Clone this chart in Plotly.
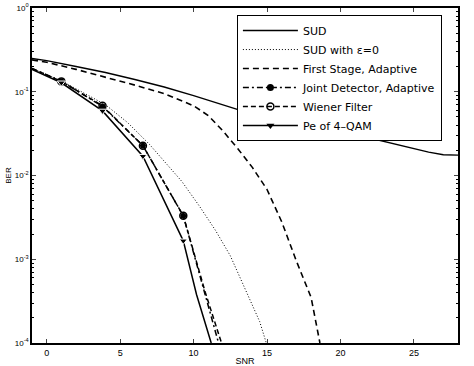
import plotly.graph_objects as go

# ---- data ----
snr_sud = [-1, 0, 2, 4, 6, 8, 10, 12, 14, 16, 18, 20, 22, 24, 26, 27, 28]
ber_sud = [0.25, 0.235, 0.2, 0.17, 0.14, 0.114, 0.09, 0.07, 0.054, 0.046, 0.039,
           0.034, 0.028, 0.0226, 0.019, 0.0177, 0.0175]

snr_eps = [-1, 1, 4, 5.5, 7, 8, 9.2, 10.4, 11.5, 12.5, 13.8, 14.5, 14.95]
ber_eps = [0.19, 0.135, 0.07, 0.043, 0.0235, 0.015, 0.0085, 0.0043, 0.0022,
           0.0011, 3.5e-4, 1.8e-4, 1e-4]

snr_fs = [-1, 0, 2, 4, 6, 8, 10, 11, 12, 13, 14, 15, 16, 17, 18, 18.6]
ber_fs = [0.24, 0.225, 0.185, 0.15, 0.12, 0.095, 0.068, 0.052, 0.034, 0.021,
          0.0125, 0.0068, 0.0028, 9.5e-4, 3.5e-4, 1e-4]

snr_jd = [-1, 1, 3.8, 6.55, 9.3, 10.7, 11.7]
ber_jd = [0.19, 0.133, 0.067, 0.0227, 0.0033, 4.2e-4, 1e-4]

snr_wf = [-1, 1, 3.8, 6.55, 9.3, 10.8, 11.9]
ber_wf = [0.19, 0.133, 0.068, 0.0227, 0.0033, 4e-4, 1e-4]

snr_pe = [-1, 1, 3.8, 6.55, 9.3, 10.2, 11.2]
ber_pe = [0.185, 0.128, 0.059, 0.017, 0.00166, 3.8e-4, 1e-4]

x_ticks = [0, 5, 10, 15, 20, 25]
y_ticks = [1e-4, 1e-3, 1e-2, 1e-1, 1]
y_tick_text = ["10<sup>-4</sup>", "10<sup>-3</sup>", "10<sup>-2</sup>", "10<sup>-1</sup>", "10<sup>0</sup>"]

names = ["SUD", "SUD with \u03b5=0", "First Stage, Adaptive",
         "Joint Detector, Adaptive", "Wiener Filter", "Pe of 4\u2013QAM"]

K = "black"
FONT = "Arial, Liberation Sans, sans-serif"

def msizes(n, s):
    # markers at interior points only
    return [0] + [s] * (n - 3) + [0, 0]

styles = [
    dict(x=snr_sud, y=ber_sud, line=dict(color=K, width=1.4, dash="solid"), marker=None),
    dict(x=snr_eps, y=ber_eps, line=dict(color=K, width=1.0, dash="1px,2px"), marker=None),
    dict(x=snr_fs, y=ber_fs, line=dict(color=K, width=1.6, dash="6px,4px"), marker=None),
    dict(x=snr_jd, y=ber_jd, line=dict(color=K, width=1.5, dash="6px,3px,2px,3px"),
         marker=dict(symbol="circle", color=K, size=7, opacity=1)),
    dict(x=snr_wf, y=ber_wf, line=dict(color=K, width=1.5, dash="5px,3px"),
         marker=dict(symbol="circle-open", color=K, size=7, opacity=1, line=dict(width=1.5, color=K))),
    dict(x=snr_pe, y=ber_pe, line=dict(color=K, width=1.5, dash="solid"),
         marker=dict(symbol="triangle-down", color=K, size=7, opacity=1)),
]

fig = go.Figure()
for name, st in zip(names, styles):
    if st["marker"] is None:
        fig.add_trace(go.Scatter(x=st["x"], y=st["y"], mode="lines", line=st["line"],
                                 showlegend=False, hoverinfo="skip"))
        fig.add_trace(go.Scatter(x=[None], y=[None], mode="lines", line=st["line"], name=name))
    else:
        mk = dict(st["marker"])
        mk["size"] = msizes(len(st["x"]), st["marker"]["size"])
        fig.add_trace(go.Scatter(x=st["x"], y=st["y"], mode="lines+markers", line=st["line"],
                                 marker=mk, showlegend=False, hoverinfo="skip"))
        fig.add_trace(go.Scatter(x=[None], y=[None], mode="lines+markers", line=st["line"],
                                 marker=st["marker"], name=name))

minor_vals = [k * 10.0 ** e for e in range(-4, 0) for k in range(2, 10)]

fig.update_layout(
    width=474, height=366,
    margin=dict(l=32, r=16, t=8, b=23, autoexpand=False),
    paper_bgcolor="white", plot_bgcolor="white",
    font=dict(family=FONT, color=K, size=9),
    legend=dict(x=0.481, y=0.979, xanchor="left", yanchor="top",
                bordercolor=K, borderwidth=1, bgcolor="white",
                font=dict(family="DejaVu Sans", size=11, color=K),
                tracegroupgap=0, itemwidth=55),
    xaxis=dict(range=[-1, 28], tickvals=x_ticks, ticks="inside", ticklen=4,
               showline=True, linecolor=K, linewidth=1.5, mirror="allticks",
               showgrid=False, zeroline=False, tickfont=dict(size=9), automargin=False,
               title=dict(text="SNR", font=dict(size=9), standoff=2)),
    yaxis=dict(type="log", range=[-4, 0], tickvals=y_ticks, ticktext=y_tick_text,
               ticks="inside", ticklen=4, showline=True, linecolor=K, linewidth=1.5,
               mirror="allticks", showgrid=False, zeroline=False, tickfont=dict(size=8),
               automargin=False,
               minor=dict(ticks="inside", ticklen=2, tickvals=minor_vals, tickcolor=K, showgrid=False),
               title=dict(text="BER", font=dict(size=8), standoff=2)),
)

fig.write_html("out.html", config={"displayModeBar": False},
               post_script="document.body.style.margin='0';")
